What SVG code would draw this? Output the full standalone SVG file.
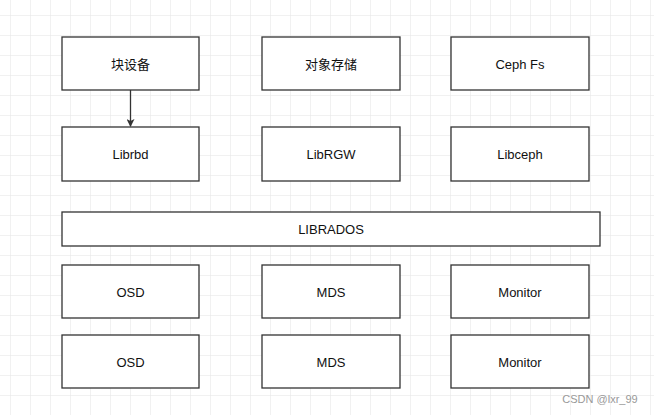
<svg xmlns="http://www.w3.org/2000/svg" width="654" height="415" viewBox="0 0 654 415">
<defs>
<pattern id="g" x="10" y="15" width="20" height="20" patternUnits="userSpaceOnUse"><path d="M0 0H20M0 0V20" fill="none" stroke="#e3e3e3" stroke-width="1"/></pattern>
<marker id="a" markerWidth="8" markerHeight="8" refX="7" refY="4" orient="auto" markerUnits="userSpaceOnUse"><path d="M0 0L8 4L0 8L2 4Z" fill="#333"/></marker>
<style>rect.n{fill:#fff;stroke:#333;stroke-width:1.3}text{font-family:"Liberation Sans","Noto Sans CJK SC",sans-serif;font-size:13px;fill:#111;text-anchor:middle;dominant-baseline:central}</style>
</defs>
<rect width="654" height="415" fill="#fff"/>
<rect width="654" height="415" fill="url(#g)"/>
<g id="n1"><rect class="n" x="62" y="37" width="137" height="53"/><text x="130.5" y="64">块设备</text></g>
<g id="n2"><rect class="n" x="262" y="37" width="138" height="53"/><text x="331" y="64">对象存储</text></g>
<g id="n3"><rect class="n" x="451" y="37" width="138" height="53"/><text x="520" y="64">Ceph Fs</text></g>
<g id="n4"><rect class="n" x="62" y="127" width="137" height="54"/><text x="130.5" y="154">Librbd</text></g>
<g id="n5"><rect class="n" x="262" y="127" width="138" height="54"/><text x="331" y="154">LibRGW</text></g>
<g id="n6"><rect class="n" x="451" y="127" width="138" height="54"/><text x="520" y="154">Libceph</text></g>
<g id="n7"><rect class="n" x="62" y="212" width="538" height="34"/><text x="331" y="229">LIBRADOS</text></g>
<g id="n8"><rect class="n" x="62" y="265" width="137" height="53"/><text x="130.5" y="292">OSD</text></g>
<g id="n9"><rect class="n" x="262" y="265" width="138" height="53"/><text x="331" y="292">MDS</text></g>
<g id="n10"><rect class="n" x="451" y="265" width="138" height="53"/><text x="520" y="292">Monitor</text></g>
<g id="n11"><rect class="n" x="62" y="335" width="137" height="53"/><text x="130.5" y="362">OSD</text></g>
<g id="n12"><rect class="n" x="262" y="335" width="138" height="53"/><text x="331" y="362">MDS</text></g>
<g id="n13"><rect class="n" x="451" y="335" width="138" height="53"/><text x="520" y="362">Monitor</text></g>
<g id="edges"><line x1="130.5" y1="90" x2="130.5" y2="126" stroke="#333" stroke-width="1.3" marker-end="url(#a)"/></g>
<text x="600" y="399" style="font-size:11px;fill:#999">CSDN @lxr_99</text>
</svg>
